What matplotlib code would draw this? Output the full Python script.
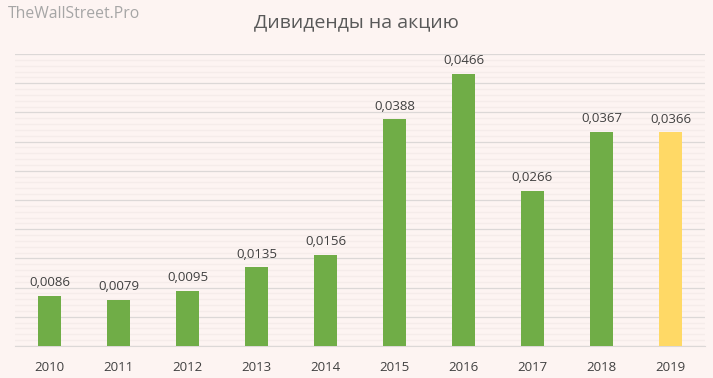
import matplotlib
matplotlib.use('Agg')
import matplotlib.pyplot as plt
from matplotlib.ticker import MultipleLocator

# ---------- data ----------
years = ['2010', '2011', '2012', '2013', '2014', '2015', '2016', '2017', '2018', '2019']
dividends = [0.0086, 0.0079, 0.0095, 0.0135, 0.0156, 0.0388, 0.0466, 0.0266, 0.0367, 0.0366]

# ---------- palette ----------
BG = '#FDF4F2'
GREEN = '#70AD47'
YELLOW = '#FFD966'
TEXT = '#404040'
GRID = '#DCD8D7'
MINOR = '#F5ECEA'

W, H = 713, 378
fig = plt.figure(figsize=(W / 100, H / 100), dpi=100, facecolor=BG)
ax = fig.add_axes([15 / W, (H - 346) / H, 690 / W, 292 / H])
ax.set_facecolor(BG)

colors = [GREEN] * (len(years) - 1) + [YELLOW]
x = range(len(years))
bars = ax.bar(x, dividends, width=0.32, color=colors, zorder=3)

for xi, v in zip(x, dividends):
    ax.text(xi, v + 0.0011, f'{v:.4f}'.replace('.', ','), ha='center', va='bottom',
            fontsize=9.5, color=TEXT, family='Open Sans')

ax.set_xlim(-0.5, len(years) - 0.5)
ax.set_ylim(0, 0.05)
ax.yaxis.set_major_locator(MultipleLocator(0.005))
ax.yaxis.set_minor_locator(MultipleLocator(0.001))
ax.grid(axis='y', which='major', color=GRID, lw=0.9, zorder=1)
ax.grid(axis='y', which='minor', color=MINOR, lw=0.9, zorder=0)
ax.tick_params(axis='y', which='both', left=False, labelleft=False)
ax.tick_params(axis='x', length=0, pad=11, labelsize=9.5, labelcolor=TEXT)
ax.set_xticks(list(x))
ax.set_xticklabels(years, family='Open Sans')
for s in ['top', 'right', 'left']:
    ax.spines[s].set_visible(False)
ax.spines['bottom'].set_color(GRID)

fig.text(0.5, 1 - 22 / H, 'Дивиденды на акцию', ha='center', va='center',
         fontsize=14, color='#595959', family='Open Sans')
fig.text(8 / W, 1 - 14 / H, 'TheWallStreet.Pro', ha='left', va='center',
         fontsize=11.3, color='#A6A6A6', family='Open Sans')

fig.savefig('out.png', dpi=100, facecolor=BG)
